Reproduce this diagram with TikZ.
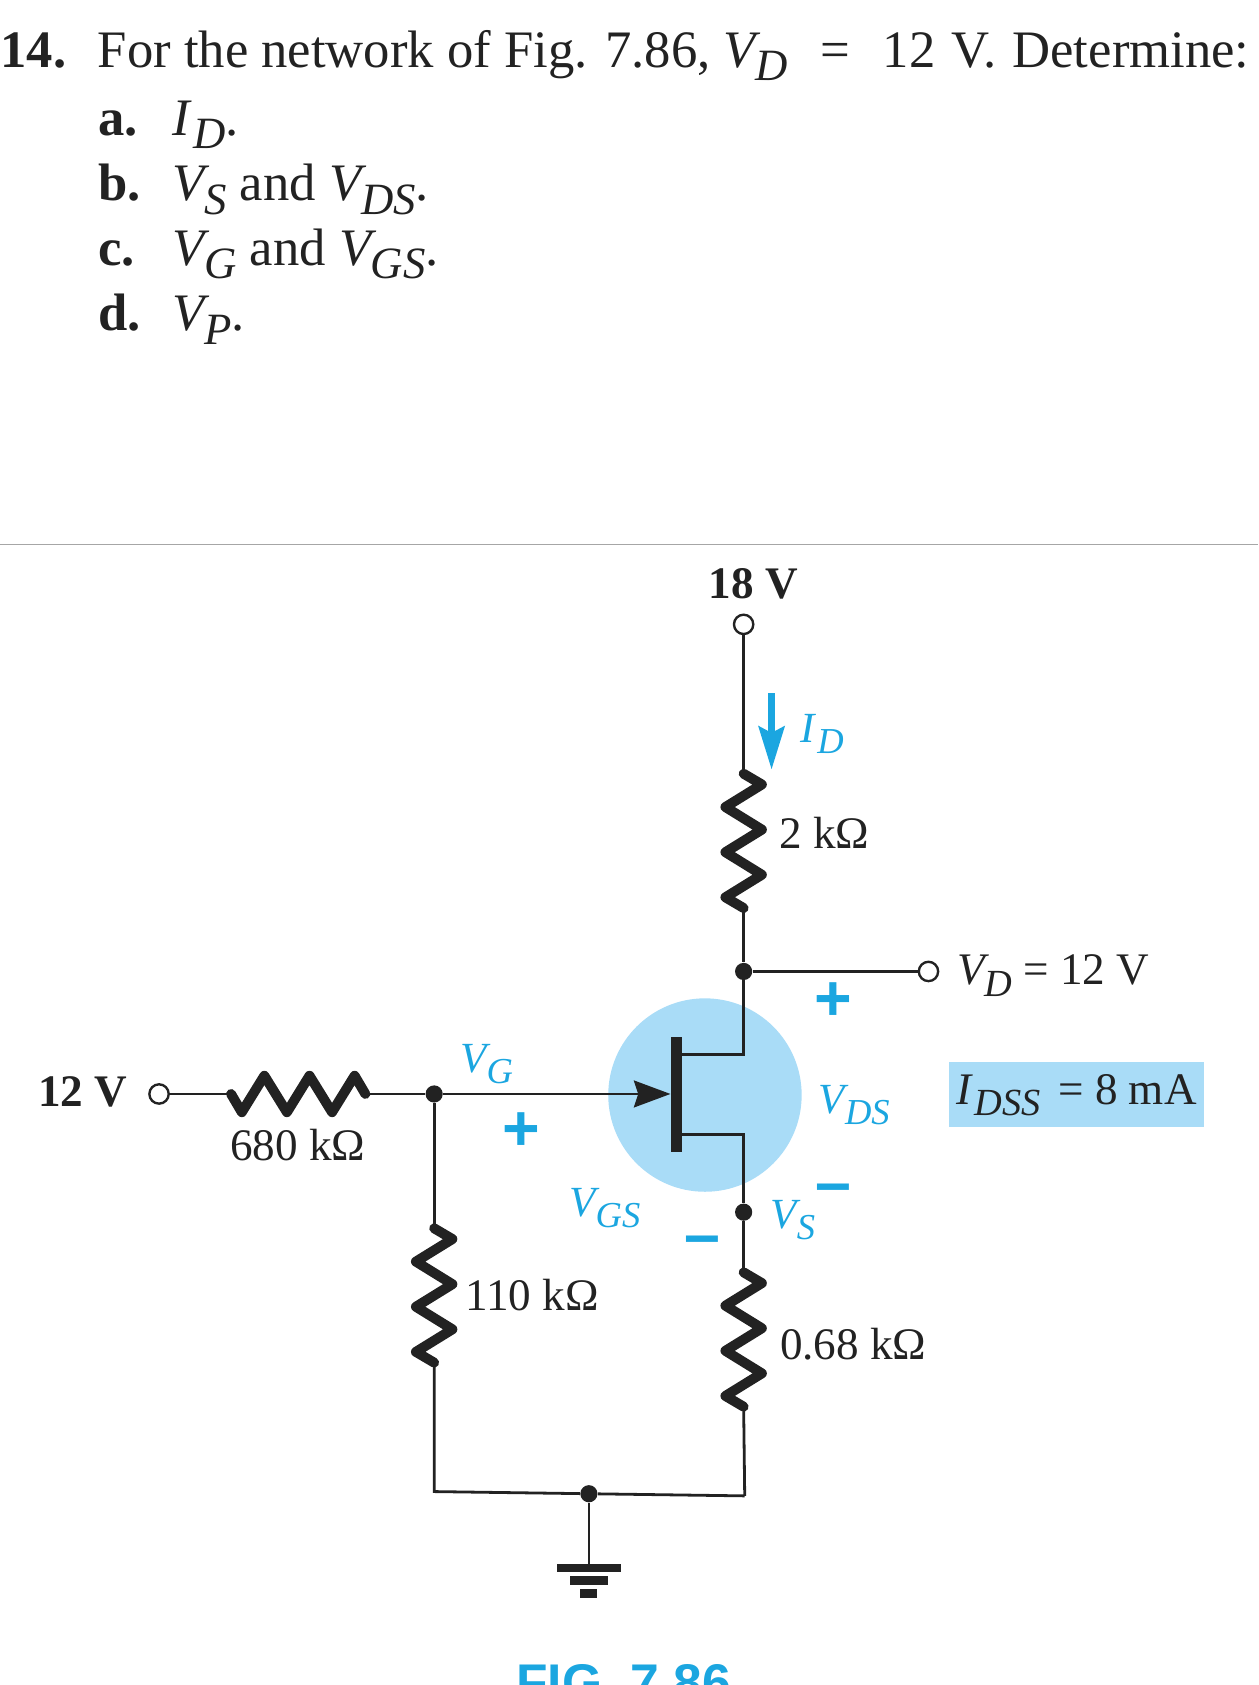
\documentclass[tikz,border=0pt]{standalone}
\usepackage{fontspec}
\setmainfont{Liberation Serif}
\newfontfamily\figfont{Liberation Sans}
\usetikzlibrary{arrows.meta}
\definecolor{figblue}{HTML}{1BA6E0}
\definecolor{lightblue}{HTML}{A9DCF7}
\definecolor{inkblack}{HTML}{222222}
\newcommand{\qsub}[3][-0.1em]{\textit{#2}\kern#1\raisebox{-0.55ex}{\scalebox{0.85}{\textit{#3}}}}
\tikzset{
    wire/.style={draw=inkblack,line width=1.3pt},
    reswire/.style={draw=inkblack,line width=4.6pt,line join=round,line cap=round},
    resistor/.pic={\draw[reswire] (0,0) -- (10,17) -- (31,-17) -- (52,17) -- (73,-17) -- (94,17) -- (115,-17) -- (125,0);},
    terminal/.style={circle,draw=inkblack,line width=1.1pt,fill=white,inner sep=0pt,minimum size=9pt},
    junction/.style={circle,fill=inkblack,inner sep=0pt,minimum size=8pt},
    sign/.style={text=figblue,font=\figfont\fontsize{30}{30}\selectfont\bfseries,inner sep=0pt},
    bluelabel/.style={text=figblue,font=\fontsize{20}{20}\selectfont,inner sep=0pt},
    value/.style={text=inkblack,font=\fontsize{21}{21}\selectfont,inner sep=0pt},
    question/.style={text=inkblack,font=\fontsize{24.5}{24.5}\selectfont,inner sep=0pt,anchor=base west},
}
\begin{document}
\begin{tikzpicture}[x=0.5pt,y=-0.5pt]
    \useasboundingbox (0,0) rectangle (1171,1568);
    \clip (0,0) rectangle (1171,1568);
    % problem text
    \node[question] (qhead) at (0,63) {\textbf{14.}\hspace{0.6em}For the network of Fig. 7.86, \qsub{V}{D}\hspace{9pt} = \hspace{9pt}12\hspace{1.5pt} V.\hspace{1.5pt} Determine:};
    \node[question] (qa) at (91,126) {\textbf{a.}};
    \node[question] (qb) at (91,187) {\textbf{b.}};
    \node[question] (qc) at (91,247) {\textbf{c.}};
    \node[question] (qd) at (91,308) {\textbf{d.}};
    \node[question] (qatext) at (160,126) {\qsub[0.02em]{I}{D}.};
    \node[question] (qbtext) at (160,187) {\qsub{V}{S} and \qsub{V}{DS}.};
    \node[question] (qctext) at (160,247) {\qsub{V}{G} and \qsub{V}{GS}.};
    \node[question] (qdtext) at (160,308) {\qsub{V}{P}.};
    \draw[gray!70,line width=0.5pt] (0,507) -- (1171,507);
    % shaded parts
    \fill[lightblue] (656,1019) circle (90);
    \node[fill=lightblue,minimum width=118.5pt,minimum height=30.5pt,inner sep=0pt] (idssbox) at (1001.5,1018.5) {};
    % coordinates of the network
    \node[terminal] (vdd) at (692,581) {};
    \node[terminal] (vin) at (148,1018) {};
    \node[terminal] (vdout) at (864,904) {};
    \node[junction] (jd) at (692,904) {};
    \node[junction] (jg) at (404,1018) {};
    \node[junction] (js) at (692,1128) {};
    \node[junction] (jgnd) at (548,1390) {};
    \node[fill=inkblack,minimum width=5.2pt,minimum height=53.5pt,inner sep=0pt] (gatebar) at (629.5,1018.5) {};
    \coordinate (rdtop) at (692,720);
    \coordinate (rdbot) at (692,845);
    \coordinate (rintop) at (215,1018);
    \coordinate (rinbot) at (340,1018);
    \coordinate (rgtop) at (404,1143);
    \coordinate (rgbot) at (404,1268);
    \coordinate (rstop) at (692,1184);
    \coordinate (rsbot) at (692,1309);
    \coordinate (gndleft) at (404,1388);
    \coordinate (gndright) at (693,1392);
    \coordinate (gndend) at (548,1458);
    \coordinate (idtop) at (718,645);
    \coordinate (idtip) at (718,716);
    % resistors
    \pic[rotate=-90,yscale=-1] at (rdtop) {resistor};
    \pic at (rintop) {resistor};
    \pic[rotate=-90,yscale=-1] at (rgtop) {resistor};
    \pic[rotate=-90,yscale=-1] at (rstop) {resistor};
    % wires
    \draw[wire] (vdd) -- (rdtop);
    \draw[wire] (rdbot) -- (jd);
    \draw[wire] (jd) -- (vdout);
    \draw[wire] (jd) -- (692,981) -- (gatebar.east |- 692,981);
    \draw[wire] (gatebar.east |- 692,1056) -- (692,1056) -- (js);
    \draw[wire] (js) -- (rstop);
    \draw[wire] (rsbot) -- (gndright);
    \draw[wire] (vin) -- (rintop);
    \draw[wire] (rinbot) -- (jg);
    \draw[wire,-{Stealth[length=17pt,width=12.5pt,inset=2pt]}] (jg) -- (gatebar.west |- jg);
    \draw[wire] (jg) -- (rgtop);
    \draw[wire] (rgbot) -- (gndleft) -- (jgnd);
    \draw[wire] (jgnd) -- (gndright);
    \draw[wire] (jgnd) -- (gndend);
    % ground bars
    \foreach \w/\y in {30/1459,18/1471,8/1483}
    \fill[inkblack] (548-\w,\y-4) rectangle (548+\w,\y+4);
    % drain current
    \draw[figblue,line width=3pt,-{Stealth[length=20pt,width=12pt,inset=3pt]}] (idtop) -- (idtip);
    % labels
    \node[value] (lvdd) at (701,543) {\textbf{18 V}};
    \node[value] (lvin) at (77,1016) {\textbf{12 V}};
    \node[value] (lrd) at (767,775) {2 kΩ};
    \node[value] (lrin) at (277,1066) {680 kΩ};
    \node[value] (lrg) at (495,1205) {110 kΩ};
    \node[value] (lrs) at (794,1251) {0.68 kΩ};
    \node[value] (lvdout) at (980,908) {\qsub{V}{D} = 12 V};
    \node[value] (lidss) at (1002,1019) {\qsub[0.02em]{I}{DSS}\hspace{3pt} = 8 mA};
    \node[bluelabel] (lid) at (765,683) {\qsub[0.02em]{I}{D}};
    \node[bluelabel] (lvg) at (453,990) {\qsub{V}{G}};
    \node[bluelabel] (lvgs) at (563,1124) {\qsub{V}{GS}};
    \node[bluelabel] (lvds) at (795,1028) {\qsub{V}{DS}};
    \node[bluelabel] (lvs) at (738,1135) {\qsub{V}{S}};
    \node[sign] (vgplus) at (485,1053) {+};
    \node[sign] (vgminus) at (654,1160) {–};
    \node[sign] (vdplus) at (775,932) {+};
    \node[sign] (vdminus) at (776,1111) {–};
    \node[text=figblue,font=\figfont\fontsize{24}{24}\selectfont\bfseries,inner sep=0pt,anchor=base west] (figlabel) at (480,1582) {FIG. 7.86};
\end{tikzpicture}
\end{document}
